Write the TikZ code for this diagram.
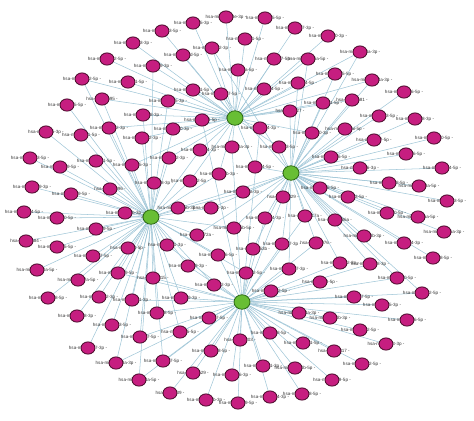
\documentclass[tikz,border=0pt]{standalone}
\usepackage{fontspec}
\setmainfont{Liberation Sans}
\usetikzlibrary{shapes.geometric}
\pgfdeclarelayer{bg}
\pgfsetlayers{bg,main}
\definecolor{mirpink}{RGB}{198,30,128}
\definecolor{mirline}{RGB}{70,10,40}
\definecolor{hubgreen}{RGB}{104,190,52}
\definecolor{hubline}{RGB}{40,100,20}
\definecolor{linkblue}{RGB}{160,198,215}
% miRNA / x / y / label / hub / second hub (0 = none)
\newcommand\mirlist{1/226/17/1273e-3p/1/0, 2/193/23/1285-3p/1/0, 3/162/31/4753-5p/1/0,
 4/133/43/3163-3p/1/0, 5/212/48/1302-3p/1/2, 6/183/55/548d-5p/1/0, 7/107/59/3922-5p/1/0,
 8/153/66/4789-3p/1/3, 9/82/79/1972-5p/1/3, 10/128/82/4731-5p/1/0, 11/193/90/3201-5p/1/0,
 12/221/94/4317-5p/1/2, 13/102/99/4695/3/1, 14/168/101/6505-3p/1/3, 15/67/105/2355-5p/3/0,
 16/143/115/4668-3p/1/3, 17/202/120/338-5p/1/4, 18/109/128/4262-3p/3/1, 19/173/129/3180-3p/1/3,
 20/46/132/155-3p/3/0, 21/81/135/3911-5p/3/0, 22/142/138/3612-3p/3/1, 23/238/70/548a-5p/1/0,
 24/265/18/1305-5p/1/0, 25/295/28/1827-3p/1/0, 26/328/36/4770-3p/1/0, 27/245/39/5011-5p/1/0,
 28/360/52/2114a-3p/1/2, 29/274/59/1197-5p/1/0, 30/308/59/4326a-5p/1/2, 31/335/74/3065-5p/1/2,
 32/372/80/1304a-3p/2/1, 33/298/83/4284-5p/1/2, 34/264/89/3074-5p/1/0, 35/404/92/4536-5p/2/0,
 36/352/100/2681/2/1, 37/323/103/4271-5p/2/1, 38/290/111/627/1/2, 39/379/116/3613-5p/2/0,
 40/415/119/1538-3p/2/0, 41/260/128/4524-3p/1/4, 42/345/129/548ai-5p/2/0, 43/312/133/3120-3p/2/1,
 44/374/140/577-5p/2/0, 45/434/138/4640-5p/2/0, 46/200/150/4804-3p/1/3, 47/232/147/5692a-3p/1/4,
 48/30/158/4793-5p/3/0, 49/96/161/3941-5p/3/0, 50/60/167/6129-5p/3/0, 51/132/165/1915-3p/3/1,
 52/169/158/3662-3p/3/1, 53/219/174/514b-3p/1/3, 54/190/181/5582-5p/3/1, 55/32/187/4679-3p/3/0,
 56/110/189/5096/3/0, 57/154/183/3978-3p/3/0, 58/71/194/1299-5p/3/0, 59/24/212/4464-5p/3/0,
 60/125/213/302b-3p/3/0, 61/57/218/5590-5p/3/0, 62/178/208/3135b-3p/3/2, 63/211/208/570-3p/3/2,
 64/96/229/3529-5p/3/0, 65/197/235/8072a/3/2, 66/234/228/1245b-5p/2/3, 67/26/241/4684/3/0,
 68/57/247/4635-5p/3/0, 69/167/245/5011-3p/3/4, 70/128/248/224-5p/3/0, 71/218/255/3196-5p/4/3,
 72/93/256/4277-5p/3/0, 73/37/270/4770a-5p/3/0, 74/188/266/4319-3p/4/3, 75/118/273/4999-5p/3/4,
 76/153/278/4315/3/4, 77/78/280/4477a-5p/3/0, 78/279/147/3133-5p/2/1, 79/331/157/4306-5p/2/0,
 80/406/154/3926-5p/2/0, 81/255/167/5704-5p/2/1, 82/360/168/2116-3p/2/0, 83/442/168/7154-5p/2/0,
 84/389/183/1468-5p/2/0, 85/419/186/3918a-5p/2/0, 86/320/188/4726-5p/2/0, 87/243/192/642a-3p/2/3,
 88/283/197/4329/2/4, 89/348/197/3143-5p/2/0, 90/447/201/6133-5p/2/0, 91/387/213/4500-5p/2/0,
 92/418/217/548aa-5p/2/0, 93/265/218/1244-3p/2/4, 94/305/216/3617a/2/4, 95/335/220/3686a/2/0,
 96/444/232/3666a-3p/2/0, 97/364/236/1468b-3p/2/0, 98/404/243/1224-3p/2/0, 99/282/244/3617-3p/4/2,
 100/316/243/1976/2/4, 101/253/249/2053b/4/2, 102/433/258/3178-5p/2/0, 103/340/263/4282-3p/4/2,
 104/370/264/4668-3p/4/2, 105/289/269/5007-3p/4/2, 106/246/273/4672-5p/4/3, 107/397/278/4450-5p/4/2,
 108/320/282/888-5p/4/0, 109/48/298/5698-5p/3/0, 110/99/297/4262-3p/3/0, 111/132/300/4291-3p/3/4,
 112/181/298/3529-3p/4/3, 113/214/285/3192-3p/4/3, 114/77/316/3148-3p/3/0, 115/157/313/6508-5p/4/3,
 116/209/318/1207-5p/4/0, 117/112/325/3173-5p/3/0, 118/180/332/1185-5p/4/3, 119/140/337/6867-5p/3/4,
 120/240/340/1203/4/0, 121/88/348/5587-3p/3/0, 122/211/351/3158-5p/4/0, 123/163/361/2277-5p/4/3,
 124/116/363/4713a-3p/3/4, 125/193/373/4529/4/0, 126/232/375/4456-3p/4/0, 127/139/380/3184a-5p/4/3,
 128/170/393/139/4/0, 129/206/400/548b-3p/4/0, 130/238/403/3129-5p/4/0, 131/271/291/3192-5p/4/0,
 132/422/293/1972-5p/4/2, 133/354/297/4537-5p/4/0, 134/382/305/5095-3p/4/0, 135/299/313/3124a-3p/4/0,
 136/330/318/4290b-3p/4/0, 137/407/320/1236-5p/4/0, 138/360/330/3162-5p/4/0, 139/270/333/4488-5p/4/0,
 140/303/343/1301-5p/4/0, 141/386/344/548t-3p/4/0, 142/334/351/4317/4/0, 143/263/366/3661-3p/4/0,
 144/295/368/1260b-5p/4/0, 145/362/364/3942-5p/4/0, 146/332/380/1199-5p/4/0, 147/270/397/5584-3p/4/0,
 148/302/394/4738-5p/4/0}
\begin{document}
\begin{tikzpicture}[x=0.02cm, y=-0.02cm,
    mirtxt/.style={inner sep=0pt, text=black!80, font=\fontsize{2.6}{3}\selectfont},
    mir/.style={ellipse, draw=mirline, fill=mirpink, line width=0.45pt,
                minimum width=0.28cm, minimum height=0.245cm, inner sep=0pt},
    hub/.style={ellipse, draw=hubline, fill=hubgreen, line width=0.45pt,
                minimum width=0.32cm, minimum height=0.29cm, inner sep=0pt},
    link/.style={draw=linkblue, line width=0.3pt}]
    \useasboundingbox (0,0) rectangle (474,420);

    % target genes
    \foreach \h/\x/\y/\gene in {1/235/118/FOSL1, 2/291/173/ACSL1, 3/151/217/ZNF207, 4/242/302/GNAS}
    {
        \node[mirtxt] (ht\h) at (\x,\y) {\gene\ -};
        \node[hub] (h\h) at (\x,\y) {};
    }

    % miRNAs
    \foreach \n/\x/\y/\lab/\ha/\hb in \mirlist
    {
        \node[mirtxt] (t\n) at (\x,\y) {hsa-miR-\lab\ -};
        \node[mir] (m\n) at (\x,\y) {};
    }

    \begin{pgfonlayer}{bg}
        \foreach \n/\x/\y/\lab/\ha/\hb in \mirlist
        {
            \draw[link] (h\ha) -- (m\n);
            \ifnum\hb>0 \draw[link] (h\hb) -- (m\n); \fi
        }
    \end{pgfonlayer}
\end{tikzpicture}
\end{document}
